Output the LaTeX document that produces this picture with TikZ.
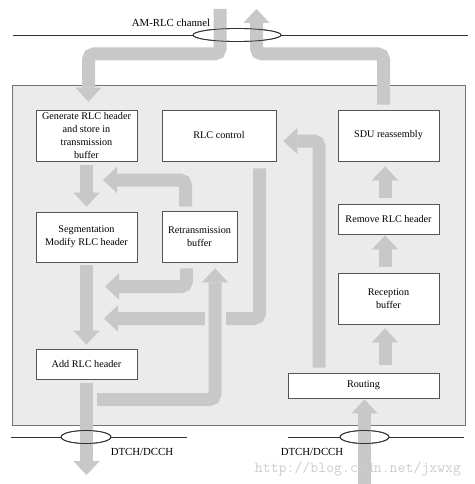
\documentclass[tikz,border=0pt]{standalone}
\usepackage{fontspec}
\setmainfont{Liberation Serif}
\usetikzlibrary{arrows.meta,shapes.geometric,calc}
\definecolor{bandc}{HTML}{C8C8C8}
\definecolor{panel}{HTML}{EBEBEB}
\definecolor{edge}{HTML}{555555}
\begin{document}
\begin{tikzpicture}[x=1pt,y=-1pt,
  box/.style={draw=edge, line width=0.9pt, fill=white, inner sep=0pt, align=center,
    font=\fontsize{10.2}{13}\selectfont},
  band/.style={draw=bandc, line width=13pt, rounded corners=5.5pt},
  bandarrow/.style={band, -{Triangle[width=26pt,length=14pt,line width=0.01pt]}},
  wire/.style={draw=black!80, line width=0.8pt},
  chan/.style={ellipse, draw=black!80, line width=0.8pt, inner sep=0pt},
  lbl/.style={font=\fontsize{10.8}{12}\selectfont, inner sep=0pt},
]
\useasboundingbox (0,0) rectangle (474,484);
% main panel
\draw[draw=black!55, line width=0.9pt, fill=panel] (12,85) rectangle (465,425);

% boxes
\node[box, minimum width=101pt, minimum height=51pt] (gen) at (86.5,135.5) {Generate RLC header\\and store in\\transmission\\buffer};
\node[box, minimum width=114pt, minimum height=51pt] (ctrl) at (219,135.5) {RLC control};
\node[box, minimum width=101pt, minimum height=51pt] (sdu) at (388.5,135.5) {SDU reassembly};
\node[box, minimum width=101pt, minimum height=50pt] (seg) at (86.5,237) {Segmentation\\Modify RLC header};
\node[box, minimum width=75pt, minimum height=51pt] (retx) at (199.5,236.5) {Retransmission\\buffer};
\node[box, minimum width=101pt, minimum height=30pt] (rem) at (388.5,219) {Remove RLC header};
\node[box, minimum width=101pt, minimum height=51pt] (recp) at (388.5,298.5) {Reception\\buffer};
\node[box, minimum width=151pt, minimum height=25pt] (rout) at (363.5,385.5) {Routing};
\node[box, minimum width=101pt, minimum height=30pt] (add) at (86.5,364) {Add RLC header};

% free ends
\coordinate (a2end) at (103,180);
\coordinate (a4end) at (105,286.5);
\coordinate (a5end) at (104,318.5);
\coordinate (a6start) at (97,399.5);
\coordinate (a6top) at ([xshift=15.5pt]retx.south);
\coordinate (a7end) at (86.5,475);
\coordinate (a12start) at (364.5,484);
\coordinate (t1start) at (220,9);
\coordinate (t1mid) at (88.5,54);
\coordinate (t2mid) at (256.5,54);
\coordinate (t2end) at (256.5,9);

% channel ellipses
\node[chan, minimum width=88pt, minimum height=13pt] (amch) at (237,35) {};
\node[chan, minimum width=50pt, minimum height=13pt] (dl) at (86,437) {};
\node[chan, minimum width=49pt, minimum height=13pt] (ul) at (364.5,437) {};

% connectors (bands)
\draw[bandarrow, shorten <=4pt, shorten >=5pt] (gen.south) -- (seg.north);
\draw[bandarrow, shorten <=4pt] ([xshift=-14pt]retx.north) |- (a2end);
\draw[bandarrow, shorten <=3pt, shorten >=4pt] (seg.south) -- (add.north);
\draw[bandarrow, shorten <=6pt] ([xshift=-13pt]retx.south) |- (a4end);
\draw[bandarrow, shorten <=7pt] ([xshift=40.5pt]ctrl.south) |- (a5end);
\draw[panel, line width=21pt] ($(a5end -| a6top)+(0,-10)$) -- ($(a5end -| a6top)+(0,10)$);
\draw[bandarrow, shorten >=6pt] (a6start) -| (a6top);
\draw[bandarrow, shorten <=4pt] (add.south) -- (a7end);
\draw[bandarrow, shorten <=5pt, shorten >=7pt] ([xshift=-44.5pt]rout.north) |- ([yshift=-5.5pt]ctrl.east);
\draw[bandarrow, shorten <=8pt, shorten >=4pt] ([xshift=21.5pt]rout.north) -- ([xshift=-3.5pt]recp.south);
\draw[bandarrow, shorten <=6pt, shorten >=1pt] ([xshift=-3.5pt]recp.north) -- ([xshift=-3.5pt]rem.south);
\draw[bandarrow, shorten <=6pt, shorten >=5pt] ([xshift=-3.5pt]rem.north) -- ([xshift=-3.5pt]sdu.south);
\draw[bandarrow, shorten >=1pt] (a12start) -- ([xshift=1pt]rout.south);
\draw[bandarrow, shorten >=8pt] (t1start) |- (t1mid) -- ([xshift=2pt]gen.north);
\draw[bandarrow, shorten <=5pt] ([xshift=-5pt]sdu.north) |- (t2mid) -- (t2end);

% channel lines and ellipse outlines on top
\draw[wire] (13,35) -- (amch.west);
\draw[wire] (amch.east) -- (468,35);
\draw[wire] (11,437) -- (dl.west);
\draw[wire] (dl.east) -- (187,437);
\draw[wire] (288,437) -- (ul.west);
\draw[wire] (ul.east) -- (464,437);
\node[chan, minimum width=88pt, minimum height=13pt] at (amch) {};
\node[chan, minimum width=50pt, minimum height=13pt] at (dl) {};
\node[chan, minimum width=49pt, minimum height=13pt] at (ul) {};

% labels
\node[lbl] (amlbl) at (171,23) {AM-RLC channel};
\node[lbl] (dllbl) at (142,452) {DTCH/DCCH};
\node[lbl] (ullbl) at (312,452) {DTCH/DCCH};
\node[inner sep=0pt, font=\ttfamily\fontsize{15.4}{16}\selectfont, text=black!20] (wm) at (358,469) {http://blog.csdn.net/jxwxg};
\end{tikzpicture}
\end{document}
